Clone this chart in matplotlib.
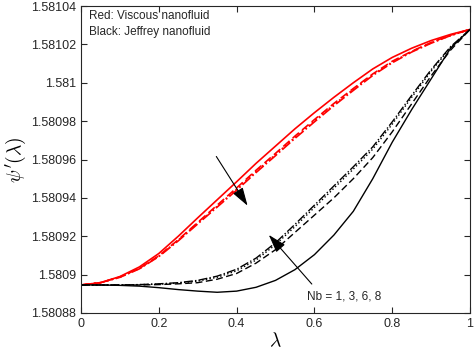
import matplotlib
matplotlib.use('Agg')
import matplotlib.pyplot as plt

plt.rcParams['font.family'] = ['Liberation Sans', 'DejaVu Sans']
plt.rcParams['mathtext.fontset'] = 'cm'

# lambda grid
lam = [0, .05, .1, .15, .2, .25, .3, .35, .4, .45, .5,
       .55, .6, .65, .7, .75, .8, .85, .9, .95, 1]

# Viscous nanofluid (red), Nb = 1, 3, 6, 8
red_nb1 = [1.5808946, 1.5808958, 1.5808990, 1.5809040, 1.5809110, 1.5809200, 1.5809296,
           1.5809390, 1.5809484, 1.5809580, 1.5809670, 1.5809760, 1.5809844, 1.5809924,
           1.5810000, 1.5810072, 1.5810132, 1.5810180, 1.5810220, 1.5810252, 1.5810278]
red_nb3 = [1.5808946, 1.5808958, 1.5808988, 1.5809032, 1.5809098, 1.5809182, 1.5809272,
           1.5809362, 1.5809452, 1.5809544, 1.5809632, 1.5809722, 1.5809808, 1.5809892,
           1.5809970, 1.5810046, 1.5810112, 1.5810164, 1.5810210, 1.5810248, 1.5810278]
red_nb6 = [1.5808946, 1.5808958, 1.5808986, 1.5809032, 1.5809096, 1.5809180, 1.5809268,
           1.5809356, 1.5809446, 1.5809538, 1.5809626, 1.5809716, 1.5809802, 1.5809886,
           1.5809966, 1.5810042, 1.5810108, 1.5810162, 1.5810208, 1.5810246, 1.5810278]
red_nb8 = [1.5808946, 1.5808958, 1.5808986, 1.5809030, 1.5809094, 1.5809176, 1.5809264,
           1.5809352, 1.5809440, 1.5809532, 1.5809620, 1.5809710, 1.5809796, 1.5809880,
           1.5809960, 1.5810038, 1.5810104, 1.5810160, 1.5810206, 1.5810246, 1.5810278]

# Jeffrey nanofluid (black), Nb = 1, 3, 6, 8
blk_nb1 = [1.5808946, 1.5808946, 1.5808944, 1.5808940, 1.5808932, 1.5808922, 1.5808914,
           1.5808908, 1.5808914, 1.5808934, 1.5808970, 1.5809026, 1.5809104, 1.5809206,
           1.5809330, 1.5809500, 1.5809690, 1.5809860, 1.5810020, 1.5810180, 1.5810278]
blk_nb3 = [1.5808946, 1.5808946, 1.5808946, 1.5808946, 1.5808948, 1.5808952, 1.5808958,
           1.5808976, 1.5809006, 1.5809060, 1.5809130, 1.5809220, 1.5809310, 1.5809400,
           1.5809500, 1.5809610, 1.5809744, 1.5809890, 1.5810036, 1.5810170, 1.5810278]
blk_nb6 = [1.5808946, 1.5808946, 1.5808946, 1.5808948, 1.5808950, 1.5808956, 1.5808966,
           1.5808986, 1.5809020, 1.5809076, 1.5809156, 1.5809250, 1.5809350, 1.5809450,
           1.5809550, 1.5809654, 1.5809784, 1.5809924, 1.5810060, 1.5810184, 1.5810278]
blk_nb8 = [1.5808946, 1.5808946, 1.5808946, 1.5808948, 1.5808952, 1.5808958, 1.5808970,
           1.5808992, 1.5809028, 1.5809086, 1.5809166, 1.5809262, 1.5809362, 1.5809462,
           1.5809562, 1.5809666, 1.5809796, 1.5809934, 1.5810068, 1.5810188, 1.5810278]

yticks = [1.58088, 1.5809, 1.58092, 1.58094, 1.58096, 1.58098, 1.581, 1.58102, 1.58104]
ytick_labels = ['1.58088', '1.5809', '1.58092', '1.58094', '1.58096', '1.58098',
                '1.581', '1.58102', '1.58104']
xticks = [0, 0.2, 0.4, 0.6, 0.8, 1]
xtick_labels = ['0', '0.2', '0.4', '0.6', '0.8', '1']

fig = plt.figure(figsize=(4.74, 3.56), dpi=100)
ax = fig.add_axes([0.1709, 0.1208, 0.8207, 0.8623])

styles = ['-', (0, (5, 2.5)), ':', '-.']
for ys, st in zip([red_nb1, red_nb3, red_nb6, red_nb8], styles):
    ax.plot(lam, ys, color='red', linestyle=st, linewidth=1.2)
for ys, st in zip([blk_nb1, blk_nb3, blk_nb6, blk_nb8], styles):
    ax.plot(lam, ys, color='black', linestyle=st, linewidth=1.0)

ax.set_xlim(0, 1)
ax.set_ylim(1.58088, 1.58104)
ax.set_xticks(xticks)
ax.set_xticklabels(xtick_labels)
ax.set_yticks(yticks)
ax.set_yticklabels(ytick_labels)

grey = '#262626'
ax.tick_params(direction='in', length=4, width=0.8, top=True, right=True,
               labelsize=9, colors=grey, labelcolor=grey)
for sp in ax.spines.values():
    sp.set_color(grey)
    sp.set_linewidth(0.8)

ax.set_xlabel(r'$\lambda$', fontsize=14, labelpad=1)
ax.set_ylabel(r"$\psi'(\lambda)$", fontsize=14, labelpad=2)

# arrows
arrow = dict(arrowstyle='-|>,head_length=0.8,head_width=0.25', color='black',
             lw=0.8, mutation_scale=14)
ax.annotate('', xy=(0.432, 1.5809347), xytext=(0.344, 1.5809628), arrowprops=arrow)
ax.annotate('', xy=(0.478, 1.5809218), xytext=(0.598, 1.580894), arrowprops=arrow)
ax.text(0.581, 1.5808888, 'Nb = 1, 3, 6, 8', fontsize=8.5, color=grey,
        ha='left', va='center')

ax.text(0.02, 0.967, 'Red: Viscous nanofluid', transform=ax.transAxes,
        fontsize=8.5, color=grey, ha='left', va='center')
ax.text(0.02, 0.915, 'Black: Jeffrey nanofluid', transform=ax.transAxes,
        fontsize=8.5, color=grey, ha='left', va='center')

fig.savefig('out.png', dpi=100)
